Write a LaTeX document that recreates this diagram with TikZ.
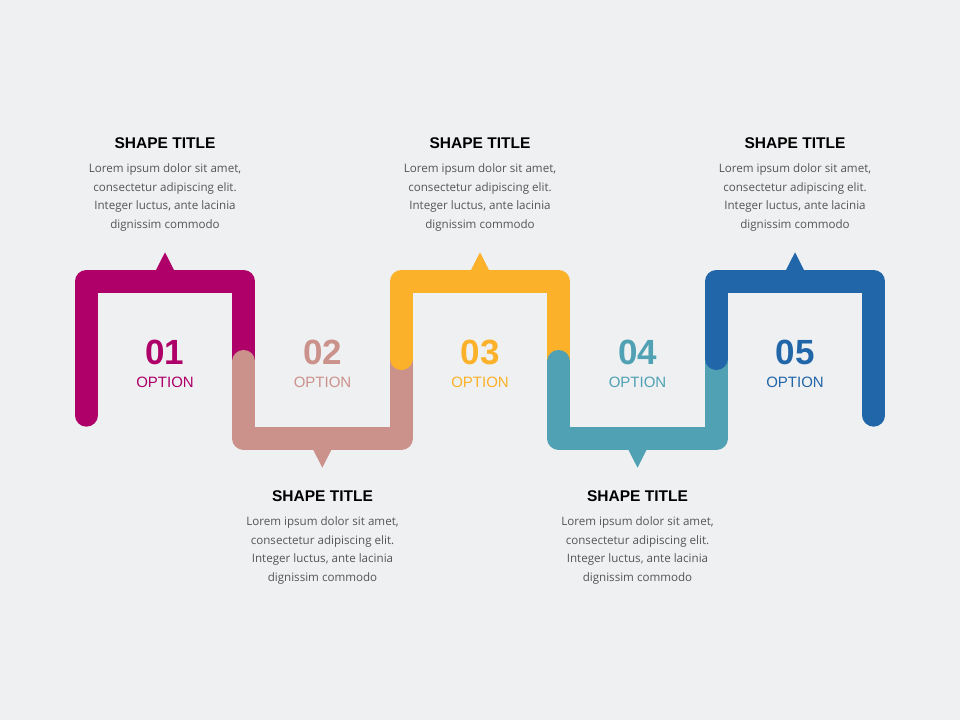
\documentclass[tikz,border=0pt]{standalone}
\usepackage{fontspec}
\setmainfont{Liberation Sans}
\newfontfamily\bodyfont{Open Sans}
\definecolor{cBg}{HTML}{EFF0F2}
\definecolor{cMag}{HTML}{AE0068}
\definecolor{cPink}{HTML}{CB928B}
\definecolor{cYel}{HTML}{FBB12A}
\definecolor{cTeal}{HTML}{4FA1B3}
\definecolor{cBlue}{HTML}{2166A8}
\definecolor{cTxt}{HTML}{555555}
\begin{document}
\begin{tikzpicture}[x=1pt,y=-1pt,
  band/.style={line width=22.7pt,line join=round,line cap=round},
  num/.style={font=\bfseries\fontsize{35}{35}\selectfont,anchor=base,inner sep=0pt},
  opt/.style={font=\fontsize{15}{15}\selectfont,anchor=base,inner sep=0pt},
  ttl/.style={font=\bfseries\fontsize{15.5}{15.5}\selectfont,anchor=base,inner sep=0pt,text=black},
  body/.style={font=\bodyfont\fontsize{11.6}{18.7}\selectfont,align=center,anchor=north,inner sep=0pt,text=cTxt}]
\fill[cBg] (0,0) rectangle (960,720);
\useasboundingbox (0,0) rectangle (960,720);
% bands
\draw[band,cMag] (86.3,415.3) -- (86.3,281.3) -- (243.8,281.3) -- (243.8,365);
\fill[cMag] (155,272) -- (165,252.3) -- (175,272) -- cycle;
\draw[band,cPink] (243.8,361.3) -- (243.8,438.7) -- (401.3,438.7) -- (401.3,355);
\fill[cPink] (312.3,448) -- (322.3,467.7) -- (332.3,448) -- cycle;
\draw[band,cYel] (401.3,358.7) -- (401.3,281.3) -- (558.8,281.3) -- (558.8,365);
\fill[cYel] (470,272) -- (480,252.3) -- (490,272) -- cycle;
\draw[band,cTeal] (558.8,361.3) -- (558.8,438.7) -- (716.3,438.7) -- (716.3,355);
\fill[cTeal] (627.5,448) -- (637.5,467.7) -- (647.5,448) -- cycle;
\draw[band,cBlue] (716.3,358.7) -- (716.3,281.3) -- (873.8,281.3) -- (873.8,415.3);
\fill[cBlue] (785,272) -- (795,252.3) -- (805,272) -- cycle;
% numbers
\node[num,text=cMag] (n1) at (165,364) {01};
\node[opt,text=cMag] (o1) at (165,387.7) {OPTION};
\node[num,text=cPink] (n2) at (322.5,364) {02};
\node[opt,text=cPink] (o2) at (322.5,387.7) {OPTION};
\node[num,text=cYel] (n3) at (480,364) {03};
\node[opt,text=cYel] (o3) at (480,387.7) {OPTION};
\node[num,text=cTeal] (n4) at (637.5,364) {04};
\node[opt,text=cTeal] (o4) at (637.5,387.7) {OPTION};
\node[num,text=cBlue] (n5) at (795,364) {05};
\node[opt,text=cBlue] (o5) at (795,387.7) {OPTION};
% titles
\node[ttl] (t1) at (165,148.5) {SHAPE TITLE};
\node[ttl] (t3) at (480,148.5) {SHAPE TITLE};
\node[ttl] (t5) at (795,148.5) {SHAPE TITLE};
\node[ttl] (t2) at (322.5,501.5) {SHAPE TITLE};
\node[ttl] (t4) at (637.5,501.5) {SHAPE TITLE};
% bodies
\foreach \nm/\x/\y in {b1/165/163.5, b3/480/163.5, b5/795/163.5, b2/322.5/516.5, b4/637.5/516.5}{
  \node[body] (\nm) at (\x,\y) {Lorem ipsum dolor sit amet,\\consectetur adipiscing elit.\\Integer luctus, ante lacinia\\dignissim commodo};
}
\end{tikzpicture}
\end{document}
